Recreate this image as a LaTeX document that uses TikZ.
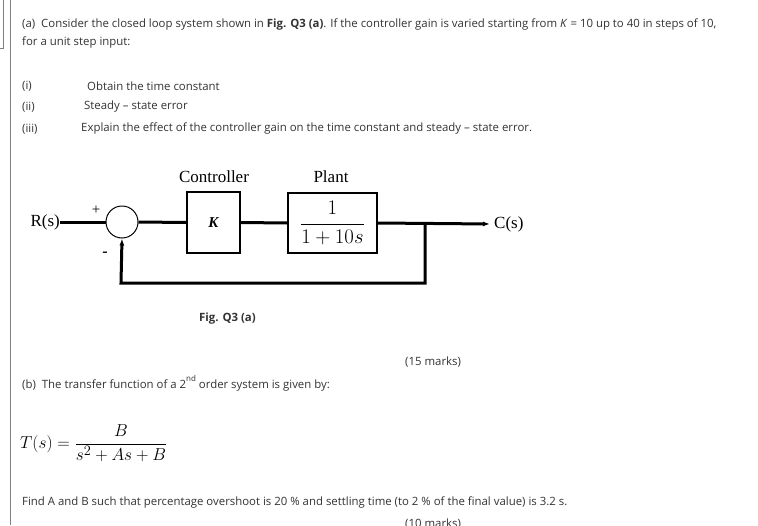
\documentclass[tikz,border=0pt]{standalone}
\usepackage{fontspec}
\setmainfont{Open Sans}
\newfontfamily\serf{Liberation Serif}
\usetikzlibrary{arrows.meta}
\begin{document}
\begin{tikzpicture}[x=1pt,y=-1pt,
  txt/.style={anchor=west,inner sep=0pt,font=\fontsize{11.4}{13}\selectfont,text=black!80},
  lbl/.style={inner sep=0pt,font=\serf\fontsize{17}{19}\selectfont},
  blk/.style={draw,line width=1.6pt,minimum width=#1},
  thick4/.style={line width=3pt},
  arr/.style={-{Latex[length=7pt,width=5pt]}}]
\clip (0,0) rectangle (758,525);
\fill[white] (0,0) rectangle (758,525);
\draw[gray,line width=0.8pt] (10,0) -- (10,525);
\draw[gray,line width=0.8pt] (3,0) -- (3,48) -- (0,48);
\node[txt] (l1) at (22,25) {(a)\ \ Consider the closed loop system shown in \textbf{Fig. Q3 (a)}. If the controller gain is varied starting from \textit{K} = 10 up to 40 in steps of 10,};
\node[txt] (l2) at (22,43) {for a unit step input:};
\node[txt] (i1) at (22,86) {(i)};
\node[txt] (t1) at (87,86) {Obtain the time constant};
\node[txt] (i2) at (22,107) {(ii)};
\node[txt] (t2) at (84,107) {Steady -- state error};
\node[txt] (i3) at (22,129) {(iii)};
\node[txt] (t3) at (81,129) {Explain the effect of the controller gain on the time constant and steady -- state error.};
% block diagram
\node[lbl] (ctl) at (214,177) {Controller};
\node[lbl] (plt) at (331,177) {Plant};
\node[lbl,anchor=east] (R) at (60,222) {R(s)};
\node[draw,circle,line width=1pt,minimum size=32pt,inner sep=0pt] (sum) at (122,222) {};
\node[lbl,font=\serf\fontsize{15}{15}\selectfont] (plus) at (96,210) {+};
\node[lbl,font=\serf\bfseries\fontsize{16}{16}\selectfont] (minus) at (105,254) {-};
\node[draw,line width=1.2pt,minimum width=53pt,minimum height=61pt,font=\serf\bfseries\itshape\fontsize{15}{15}\selectfont] (K) at (213.5,222.5) {K};
\node[blk=89pt,minimum height=60pt,inner sep=0pt,font=\fontsize{20}{22}\selectfont] (P) at (332.5,223) {$\displaystyle\frac{1}{1+10s}$};
\node[lbl,anchor=west,inner xsep=4pt] (C) at (490,224) {C(s)};
\coordinate (tap) at (425,222);
\coordinate (bl) at (121,283);
\draw[thick4] (R.east) -- (sum.west);
\draw[thick4] (sum.east) -- (K.west);
\draw[thick4] (K.east) -- (P.west);
\draw[thick4,arr] (P.east) -- (C.west);
\draw[thick4,arr] (tap) |- (bl) -- (sum.south);
\node[txt,font=\bfseries\fontsize{11.4}{13}\selectfont] (fig) at (199,319) {Fig. Q3 (a)};
\node[txt] (m15) at (405,362) {(15 marks)};
\node[txt] (b) at (22,383) {(b)\ \ The transfer function of a 2\raisebox{1.1ex}{\fontsize{8}{8}\selectfont nd} order system is given by:};
\node[anchor=west,inner sep=0pt,font=\fontsize{19}{22}\selectfont] (T) at (20,443) {$T(s) = \displaystyle\frac{B}{s^2+As+B}$};
\node[txt] (f) at (22,503) {Find A and B such that percentage overshoot is 20 \% and settling time (to 2 \% of the final value) is 3.2 s.};
\node[txt] (m10) at (405,524) {(10 marks)};
\end{tikzpicture}
\end{document}
